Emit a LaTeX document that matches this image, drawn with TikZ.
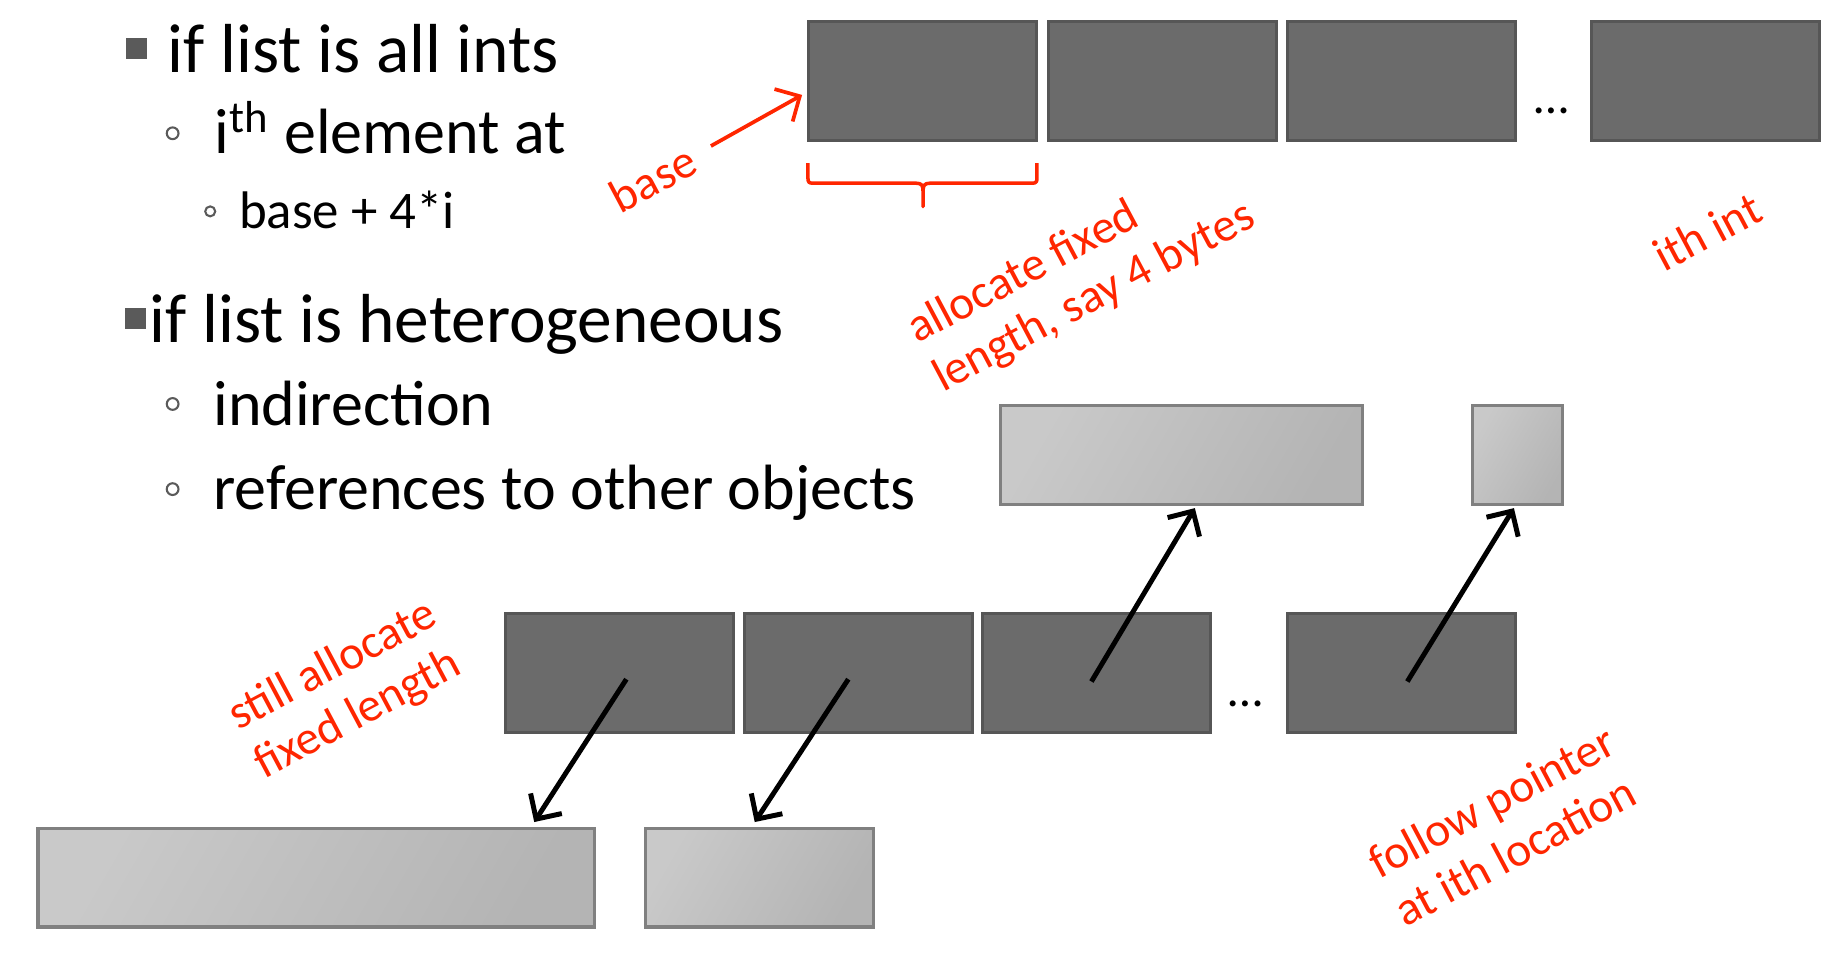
\documentclass[tikz,border=0pt]{standalone}
\usepackage{fontspec}
\setmainfont{Carlito}
\usepackage{xcolor}
\usepackage{tikz}
\usetikzlibrary{shapes}
\usetikzlibrary{arrows.meta}
\definecolor{slidered}{RGB}{255,38,0}
\definecolor{cellfill}{RGB}{107,107,107}
\definecolor{celledge}{RGB}{86,86,86}
\definecolor{objfill}{RGB}{201,201,201}
\definecolor{objshade}{RGB}{180,180,180}
\definecolor{objedge}{RGB}{128,128,128}
\definecolor{bulletgray}{RGB}{90,90,90}
\newcommand{\lvlone}{\fontsize{16.8}{19}\selectfont}
\newcommand{\lvltwo}{\fontsize{15.5}{18}\selectfont}
\newcommand{\lvlthree}{\fontsize{12.8}{15}\selectfont}

\begin{document}
\begin{tikzpicture}[x=0.01cm,y=-0.01cm,
  cell/.style={rectangle, draw=celledge, fill=cellfill, line width=0.75pt, anchor=north west, inner sep=0pt, minimum width=1.94cm, minimum height=1.01cm},
  obj/.style={rectangle, draw=objedge, line width=0.75pt, anchor=north west, inner sep=0pt, left color=objfill, middle color=objfill, right color=objshade, shading angle=60, minimum height=0.84cm},
  note/.style={color=slidered, rotate=28, align=left, inner sep=0pt, font=\fontsize{11.5}{13.3}\selectfont},
  item/.style={anchor=base west, inner sep=0pt},
  square/.style={rectangle, fill=bulletgray, inner sep=0pt, minimum size=0.18cm},
  ring/.style={circle, draw=bulletgray, line width=0.5pt, inner sep=0pt, minimum size=0.1cm},
  >={Straight Barb[length=4.5pt,width=9pt]}]
\path[fill=white, use as bounding box] (0,0) rectangle (1560,828);

% left hand text
\node[square] (sq1) at (116,41) {};
\node[item, font=\lvlone] (all) at (142,62) {if list is all ints};
\node[ring] (r1) at (147,113.5) {};
\node[item, font=\lvltwo] (ith) at (182,131) {i\textsuperscript{th} element at};
\node[ring, minimum size=0.085cm] (r2) at (179,180) {};
\node[item, font=\lvlthree] (addr) at (203,195) {base + 4*i};
\node[square] (sq2) at (115.5,271) {};
\node[item, font=\lvlone] (het) at (127,292) {if list is heterogeneous};
\node[ring] (r3) at (147,344) {};
\node[item, font=\lvltwo] (ind) at (181,362) {indirection};
\node[ring] (r4) at (147,416.5) {};
\node[item, font=\lvltwo] (refs) at (181,434) {references to other objects};

% list of ints
\node[cell] (int1) at (687.5,17) {};
\node[cell] (int2) at (891.5,17) {};
\node[cell] (int3) at (1095,17) {};
\node[cell] (int4) at (1354,17) {};
\node[anchor=base, inner sep=0pt, font=\fontsize{12}{14}\selectfont] (dots1) at (1321,97) {…};

% list of references
\node[cell] (ref1) at (429,521) {};
\node[cell] (ref2) at (633,521) {};
\node[cell] (ref3) at (835,521) {};
\node[cell] (ref4) at (1095,521) {};
\node[anchor=base, inner sep=0pt, font=\fontsize{12}{14}\selectfont] (dots2) at (1061,602) {…};

% objects pointed to
\node[obj, minimum width=4.74cm] (tgt1) at (31,704) {};
\node[obj, minimum width=1.94cm] (tgt2) at (548.3,704) {};
\node[obj, minimum width=3.085cm] (tgt3) at (850.3,344) {};
\node[obj, minimum width=0.77cm] (tgt4) at (1252.3,344) {};

% red notes
\node[note] (baselbl) at (556,152) {base};
\node[note] (fixlbl) at (921,233) {allocate fixed\\length, say 4 bytes};
\node[note] (ithlbl) at (1454,197) {ith int};
\node[note] (stilllbl) at (295,588) {still allocate\\fixed length};
\node[note] (followlbl) at (1281,703) {follow pointer\\at ith location};

\draw[slidered, line width=0.85pt, line join=round] (688,139) -- (688,152) .. controls (688,155) and (689,156) .. (692,156) -- (780,156)
  .. controls (785,156) and (786,158) .. (786,163) -- (786,176) -- (786,163)
  .. controls (786,158) and (787,156) .. (792,156) -- (879,156) .. controls (882,156) and (883,155) .. (883,152) -- (883,139);

\begin{scope}
     \pgfsetlinewidth{1.2pt}
\draw[->, color=slidered, line width=0.9pt, shorten <=5pt] (baselbl) -- ([shift={(-4.5,12)}]int1.west);
\draw[->] ([shift={(6,5.5)}]ref1.center) -- ([shift={(-53,-4)}]tgt1.north east);
\draw[->] ([shift={(-9,5.5)}]ref2.center) -- ([shift={(-4,-4)}]tgt2.north);
\draw[->] ([shift={(-4,7.5)}]ref3.center) -- ([shift={(11.5,2)}]tgt3.south);
\draw[->] ([shift={(5,7.5)}]ref4.center) -- ([shift={(-3,2)}]tgt4.south);
% \draw[->] (ref4) -- (tgt4);
     \end{scope}

\end{tikzpicture}
\end{document}
